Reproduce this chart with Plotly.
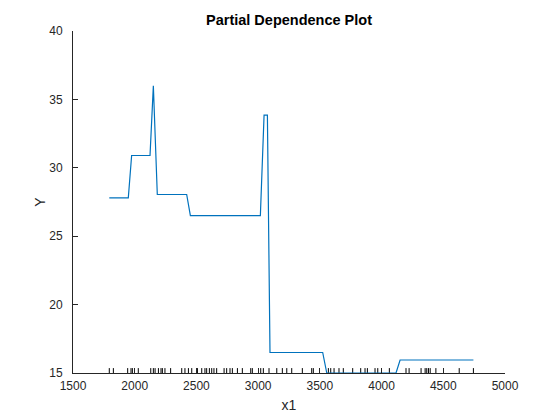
import plotly.graph_objects as go

# partial dependence curve (breakpoints)
x_grid = [1794, 1948, 1975, 2124, 2151, 2183, 2421, 2451, 3018, 3048, 3075,
          3096, 3523, 3556, 4117, 4150, 4744]
y_pd = [27.8, 27.8, 30.9, 30.9, 36.0, 28.05, 28.05, 26.5, 26.5, 33.85, 33.85,
        16.5, 16.5, 15.0, 15.0, 15.95, 15.95]

# observed x1 values shown as a rug along the bottom
x_obs = [1794, 1827, 1943, 1970, 1981, 2029, 2130, 2151, 2165, 2192, 2213,
         2224, 2245, 2291, 2381, 2407, 2435, 2462, 2508, 2543, 2569, 2583,
         2605, 2624, 2642, 2664, 2724, 2745, 2772, 2791, 2832, 2872, 2940,
         2953, 3021, 3042, 3088, 3151, 3196, 3232, 3272, 3358, 3434, 3447,
         3569, 3588, 3615, 3655, 3690, 3766, 3831, 3866, 3885, 3947, 3969,
         4063, 4198, 4223, 4320, 4353, 4366, 4380, 4394, 4440, 4629, 4744]

axis_col = "#262626"

fig = go.Figure()
fig.add_trace(go.Scatter(
    x=x_obs, y=[15] * len(x_obs), mode="markers",
    marker=dict(symbol="line-ns", size=7, line=dict(color="black", width=1)),
    cliponaxis=True, showlegend=False, hoverinfo="x"))
fig.add_trace(go.Scatter(
    x=x_grid, y=y_pd, mode="lines",
    line=dict(color="#0072BD", width=1.2), showlegend=False))

# the page adds ~8px body margin, so the margins are offset to compensate
fig.update_layout(
    width=560, height=420,
    paper_bgcolor="white", plot_bgcolor="white",
    margin=dict(l=65, r=63, t=23, b=55),
    font=dict(family="Liberation Sans, Arial, sans-serif", size=12, color=axis_col),
    title=dict(text="<b>Partial Dependence Plot</b>", x=0.5, xref="paper",
               xanchor="center", y=0.971, yanchor="middle",
               font=dict(size=14.5, color="black")),
)
fig.update_xaxes(
    range=[1500, 5000], dtick=500, tick0=1500, ticks="inside", ticklen=5,
    tickcolor=axis_col, showline=True, linecolor=axis_col, linewidth=1,
    showgrid=False, zeroline=False, mirror=False, ticklabelstandoff=2,
    title=dict(text="x1", font=dict(size=14, color=axis_col), standoff=7))
fig.update_yaxes(
    range=[15, 40], dtick=5, ticks="inside", ticklen=5,
    tickcolor=axis_col, showline=True, linecolor=axis_col, linewidth=1,
    showgrid=False, zeroline=False, mirror=False, ticklabelstandoff=7,
    title=dict(text="Y", font=dict(size=14, color=axis_col), standoff=0))

fig.write_html("out.html")
